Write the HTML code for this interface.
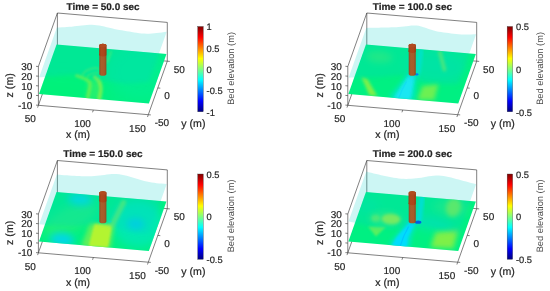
<!DOCTYPE html>
<html><head><meta charset="utf-8"><title>Bed elevation</title>
<style>html,body{margin:0;padding:0;background:#fff;}svg{display:block;}text{text-rendering:geometricPrecision;stroke:#262626;stroke-width:0.2px;font-family:"Liberation Sans",Arial,Helvetica,sans-serif;}</style></head><body>
<svg width="550" height="291" viewBox="0 0 550 291">
<defs>
<linearGradient id="jet" x1="0" y1="1" x2="0" y2="0"><stop offset="0" stop-color="#000080"/><stop offset="0.125" stop-color="#0000ff"/><stop offset="0.375" stop-color="#00ffff"/><stop offset="0.625" stop-color="#ffff00"/><stop offset="0.875" stop-color="#ff0000"/><stop offset="1" stop-color="#800000"/></linearGradient>
<filter id="bl1" x="-100%" y="-100%" width="300%" height="300%"><feGaussianBlur stdDeviation="0.50"/></filter>
<filter id="bl2" x="-100%" y="-100%" width="300%" height="300%"><feGaussianBlur stdDeviation="1.00"/></filter>
<filter id="bl3" x="-100%" y="-100%" width="300%" height="300%"><feGaussianBlur stdDeviation="1.50"/></filter>
<filter id="bl4" x="-100%" y="-100%" width="300%" height="300%"><feGaussianBlur stdDeviation="2.00"/></filter>
<filter id="bl5" x="-100%" y="-100%" width="300%" height="300%"><feGaussianBlur stdDeviation="2.50"/></filter>
<filter id="bl6" x="-100%" y="-100%" width="300%" height="300%"><feGaussianBlur stdDeviation="3.00"/></filter>
<filter id="bl7" x="-100%" y="-100%" width="300%" height="300%"><feGaussianBlur stdDeviation="3.50"/></filter>
<filter id="bl8" x="-100%" y="-100%" width="300%" height="300%"><feGaussianBlur stdDeviation="4.00"/></filter>
<filter id="bl9" x="-100%" y="-100%" width="300%" height="300%"><feGaussianBlur stdDeviation="4.50"/></filter>
<filter id="bl10" x="-100%" y="-100%" width="300%" height="300%"><feGaussianBlur stdDeviation="5.00"/></filter>
<filter id="bl11" x="-100%" y="-100%" width="300%" height="300%"><feGaussianBlur stdDeviation="5.50"/></filter>
<filter id="bl12" x="-100%" y="-100%" width="300%" height="300%"><feGaussianBlur stdDeviation="6.00"/></filter>
<filter id="bl13" x="-100%" y="-100%" width="300%" height="300%"><feGaussianBlur stdDeviation="6.50"/></filter>
<filter id="bl14" x="-100%" y="-100%" width="300%" height="300%"><feGaussianBlur stdDeviation="7.00"/></filter>
<filter id="bl15" x="-100%" y="-100%" width="300%" height="300%"><feGaussianBlur stdDeviation="7.50"/></filter>
<filter id="bl16" x="-100%" y="-100%" width="300%" height="300%"><feGaussianBlur stdDeviation="8.00"/></filter>
<filter id="bl17" x="-100%" y="-100%" width="300%" height="300%"><feGaussianBlur stdDeviation="8.50"/></filter>
<filter id="bl18" x="-100%" y="-100%" width="300%" height="300%"><feGaussianBlur stdDeviation="9.00"/></filter>
<filter id="bl19" x="-100%" y="-100%" width="300%" height="300%"><feGaussianBlur stdDeviation="9.50"/></filter>
<filter id="bl20" x="-100%" y="-100%" width="300%" height="300%"><feGaussianBlur stdDeviation="10.00"/></filter>
<linearGradient id="cylg" x1="0" y1="0" x2="1" y2="0"><stop offset="0" stop-color="#9a3c14"/><stop offset="0.3" stop-color="#ae481c"/><stop offset="0.7" stop-color="#ac461b"/><stop offset="1" stop-color="#963a12"/></linearGradient>
<linearGradient id="cylu" x1="0" y1="0" x2="1" y2="0"><stop offset="0" stop-color="#8e5024"/><stop offset="0.3" stop-color="#a85e2c"/><stop offset="0.7" stop-color="#a55c2a"/><stop offset="1" stop-color="#8a4e22"/></linearGradient>
</defs>
<rect width="550" height="291" fill="#fff"/>
<g transform="translate(0.00,0.00)">
<line x1="38.40" y1="105.30" x2="57.40" y2="51.80" stroke="#3c3c3c" stroke-width="0.65"/>
<line x1="57.40" y1="51.80" x2="167.30" y2="61.20" stroke="#3c3c3c" stroke-width="0.65"/>
<line x1="57.40" y1="51.80" x2="57.40" y2="13.00" stroke="#3c3c3c" stroke-width="0.65"/>
<line x1="38.40" y1="66.50" x2="57.40" y2="13.00" stroke="#3c3c3c" stroke-width="0.65"/>
<line x1="57.40" y1="13.00" x2="167.30" y2="22.40" stroke="#3c3c3c" stroke-width="0.65"/>
<line x1="167.30" y1="61.20" x2="167.30" y2="22.40" stroke="#3c3c3c" stroke-width="0.65"/>
<clipPath id="bc0"><polygon points="38.97,93.99 148.87,103.39 166.44,53.91 56.55,44.51"/></clipPath>
<clipPath id="nbc0"><path clip-rule="evenodd" d="M-60,-60 H320 V220 H-60 Z M38.97,93.99 L148.87,103.39 L166.44,53.91 L56.55,44.51 Z"/></clipPath>
<polygon points="38.97,93.99 148.87,103.39 166.44,53.91 56.55,44.51" fill="#00f082"/>
<g clip-path="url(#bc0)">
<ellipse cx="60.00" cy="92.00" rx="45.00" ry="18.00" transform="rotate(5.0 60.00 92.00)" fill="#00f550" fill-opacity="0.15" filter="url(#bl12)"/>
<ellipse cx="140.00" cy="72.00" rx="32.00" ry="28.00" transform="rotate(0.0 140.00 72.00)" fill="#00ebaa" fill-opacity="0.30" filter="url(#bl12)"/>
<path d="M88,80 L101,82 L100.5,100 L86,99 Z" fill="#46f064" fill-opacity="0.50" filter="url(#bl5)"/>
<path d="M76.8,75.7 Q84,77.5 89.8,82.2 Q90.2,88 89.1,90.9 L87.6,98" fill="none" stroke="#8cf046" stroke-width="3.40" stroke-opacity="0.60" stroke-linecap="round" stroke-linejoin="round" filter="url(#bl2)"/>
<path d="M94.9,77.2 Q99,80 99.9,83.6 Q101,88 100.6,90.9 L99.2,99" fill="none" stroke="#96f046" stroke-width="4.00" stroke-opacity="0.70" stroke-linecap="round" stroke-linejoin="round" filter="url(#bl2)"/>
<path d="M82.6,75 Q84,70 94.9,67.8 Q98,67.8 99.2,69.2" fill="none" stroke="#8cf046" stroke-width="1.80" stroke-opacity="0.45" stroke-linecap="round" stroke-linejoin="round" filter="url(#bl2)"/>
<path d="M87,77 Q90,72.5 98.5,72.8" fill="none" stroke="#8cf046" stroke-width="1.60" stroke-opacity="0.45" stroke-linecap="round" stroke-linejoin="round" filter="url(#bl2)"/>
<path d="M111,52 Q109.5,57 107,62" fill="none" stroke="#8cf046" stroke-width="2.20" stroke-opacity="0.45" stroke-linecap="round" stroke-linejoin="round" filter="url(#bl2)"/>
</g>
<g clip-path="url(#bc0)"><polygon points="56.83,27.51 59.33,27.40 61.83,27.29 64.32,27.17 66.82,27.02 69.32,26.84 71.82,26.63 74.31,26.36 76.81,26.06 79.31,25.73 81.81,25.41 84.30,25.13 86.80,24.92 89.30,24.80 91.80,24.81 94.30,24.96 96.79,25.24 99.29,25.62 101.79,26.09 104.29,26.62 106.78,27.20 109.28,27.79 111.78,28.37 114.28,28.94 116.78,29.46 119.27,29.93 121.77,30.36 124.27,30.77 126.77,31.17 129.26,31.57 131.76,31.98 134.26,32.40 136.76,32.80 139.25,33.16 141.75,33.44 144.25,33.62 146.75,33.69 149.25,33.66 151.74,33.54 154.24,33.34 156.74,33.09 159.24,32.79 161.73,32.45 164.23,32.09 166.73,31.72 149.06,81.47 146.56,81.85 144.06,82.21 141.57,82.54 139.07,82.84 136.57,83.10 134.07,83.29 131.58,83.42 129.08,83.45 126.58,83.38 124.08,83.19 121.58,82.91 119.09,82.55 116.59,82.15 114.09,81.73 111.59,81.32 109.10,80.92 106.60,80.53 104.10,80.12 101.60,79.68 99.11,79.21 96.61,78.69 94.11,78.13 91.61,77.54 89.11,76.95 86.62,76.38 84.12,75.85 81.62,75.38 79.12,74.99 76.63,74.72 74.13,74.56 71.63,74.55 69.13,74.67 66.63,74.88 64.14,75.16 61.64,75.48 59.14,75.81 56.64,76.12 54.15,76.38 51.65,76.60 49.15,76.78 46.65,76.92 44.16,77.05 41.66,77.16 39.16,77.26" fill="#00b4ff" fill-opacity="0.06" filter="url(#bl4)"/></g>
<g clip-path="url(#bc0)"><polygon points="56.83,27.51 59.33,27.40 61.83,27.29 64.32,27.17 66.82,27.02 69.32,26.84 71.82,26.63 74.31,26.36 76.81,26.06 79.31,25.73 81.81,25.41 84.30,25.13 86.80,24.92 89.30,24.80 91.80,24.81 94.30,24.96 96.79,25.24 99.29,25.62 101.79,26.09 104.29,26.62 106.78,27.20 109.28,27.79 111.78,28.37 114.28,28.94 116.78,29.46 119.27,29.93 121.77,30.36 124.27,30.77 126.77,31.17 129.26,31.57 131.76,31.98 134.26,32.40 136.76,32.80 139.25,33.16 141.75,33.44 144.25,33.62 146.75,33.69 149.25,33.66 151.74,33.54 154.24,33.34 156.74,33.09 159.24,32.79 161.73,32.45 164.23,32.09 166.73,31.72 149.06,81.47 146.56,81.85 144.06,82.21 141.57,82.54 139.07,82.84 136.57,83.10 134.07,83.29 131.58,83.42 129.08,83.45 126.58,83.38 124.08,83.19 121.58,82.91 119.09,82.55 116.59,82.15 114.09,81.73 111.59,81.32 109.10,80.92 106.60,80.53 104.10,80.12 101.60,79.68 99.11,79.21 96.61,78.69 94.11,78.13 91.61,77.54 89.11,76.95 86.62,76.38 84.12,75.85 81.62,75.38 79.12,74.99 76.63,74.72 74.13,74.56 71.63,74.55 69.13,74.67 66.63,74.88 64.14,75.16 61.64,75.48 59.14,75.81 56.64,76.12 54.15,76.38 51.65,76.60 49.15,76.78 46.65,76.92 44.16,77.05 41.66,77.16 39.16,77.26" fill="#00d2c8" fill-opacity="0.20" filter="url(#bl4)"/></g>
<polygon points="56.83,27.51 59.33,27.40 61.83,27.29 64.32,27.17 66.82,27.02 69.32,26.84 71.82,26.63 74.31,26.36 76.81,26.06 79.31,25.73 81.81,25.41 84.30,25.13 86.80,24.92 89.30,24.80 91.80,24.81 94.30,24.96 96.79,25.24 99.29,25.62 101.79,26.09 104.29,26.62 106.78,27.20 109.28,27.79 111.78,28.37 114.28,28.94 116.78,29.46 119.27,29.93 121.77,30.36 124.27,30.77 126.77,31.17 129.26,31.57 131.76,31.98 134.26,32.40 136.76,32.80 139.25,33.16 141.75,33.44 144.25,33.62 146.75,33.69 149.25,33.66 151.74,33.54 154.24,33.34 156.74,33.09 159.24,32.79 161.73,32.45 164.23,32.09 166.73,31.72 149.06,81.47 146.56,81.85 144.06,82.21 141.57,82.54 139.07,82.84 136.57,83.10 134.07,83.29 131.58,83.42 129.08,83.45 126.58,83.38 124.08,83.19 121.58,82.91 119.09,82.55 116.59,82.15 114.09,81.73 111.59,81.32 109.10,80.92 106.60,80.53 104.10,80.12 101.60,79.68 99.11,79.21 96.61,78.69 94.11,78.13 91.61,77.54 89.11,76.95 86.62,76.38 84.12,75.85 81.62,75.38 79.12,74.99 76.63,74.72 74.13,74.56 71.63,74.55 69.13,74.67 66.63,74.88 64.14,75.16 61.64,75.48 59.14,75.81 56.64,76.12 54.15,76.38 51.65,76.60 49.15,76.78 46.65,76.92 44.16,77.05 41.66,77.16 39.16,77.26" fill="#00d2c8" fill-opacity="0.20" clip-path="url(#nbc0)"/>
<path d="M99.30,45.61 L99.30,74.05 A3.55,1.75 0 0 0 106.40,74.05 L106.40,45.61 A3.55,1.75 0 0 0 99.30,45.61 Z" fill="url(#cylu)"/>
<path d="M99.30,45.61 L99.30,53.82 A3.55,1.75 0 0 0 106.40,55.22 L106.40,45.61 A3.55,1.75 0 0 0 99.30,45.61 Z" fill="url(#cylg)"/>
<ellipse cx="102.85" cy="45.61" rx="3.55" ry="1.75" fill="#b24a1e"/>
<line x1="38.40" y1="105.30" x2="38.40" y2="66.50" stroke="#3c3c3c" stroke-width="0.65"/>
<line x1="38.40" y1="105.30" x2="148.30" y2="114.70" stroke="#3c3c3c" stroke-width="0.65"/>
<line x1="148.30" y1="114.70" x2="167.30" y2="61.20" stroke="#3c3c3c" stroke-width="0.65"/>
<line x1="38.40" y1="105.30" x2="36.00" y2="105.10" stroke="#3c3c3c" stroke-width="0.65"/>
<line x1="38.40" y1="95.60" x2="36.00" y2="95.40" stroke="#3c3c3c" stroke-width="0.65"/>
<line x1="38.40" y1="85.90" x2="36.00" y2="85.70" stroke="#3c3c3c" stroke-width="0.65"/>
<line x1="38.40" y1="76.20" x2="36.00" y2="76.00" stroke="#3c3c3c" stroke-width="0.65"/>
<line x1="38.40" y1="66.50" x2="36.00" y2="66.30" stroke="#3c3c3c" stroke-width="0.65"/>
<line x1="38.40" y1="105.30" x2="37.60" y2="107.60" stroke="#3c3c3c" stroke-width="0.65"/>
<line x1="93.35" y1="110.00" x2="92.55" y2="112.30" stroke="#3c3c3c" stroke-width="0.65"/>
<line x1="148.30" y1="114.70" x2="147.50" y2="117.00" stroke="#3c3c3c" stroke-width="0.65"/>
<line x1="148.30" y1="114.70" x2="150.80" y2="114.90" stroke="#3c3c3c" stroke-width="0.65"/>
<line x1="157.80" y1="87.95" x2="160.30" y2="88.15" stroke="#3c3c3c" stroke-width="0.65"/>
<line x1="167.30" y1="61.20" x2="169.80" y2="61.40" stroke="#3c3c3c" stroke-width="0.65"/>
<text x="32.40" y="108.90" text-anchor="end" font-size="10.00" font-weight="normal" fill="#262626">-10</text>
<text x="32.40" y="99.20" text-anchor="end" font-size="10.00" font-weight="normal" fill="#262626">0</text>
<text x="32.40" y="89.50" text-anchor="end" font-size="10.00" font-weight="normal" fill="#262626">10</text>
<text x="32.40" y="79.80" text-anchor="end" font-size="10.00" font-weight="normal" fill="#262626">20</text>
<text x="32.40" y="70.10" text-anchor="end" font-size="10.00" font-weight="normal" fill="#262626">30</text>
<text x="35.90" y="122.20" text-anchor="end" font-size="10.00" font-weight="normal" fill="#262626">50</text>
<text x="90.85" y="126.90" text-anchor="end" font-size="10.00" font-weight="normal" fill="#262626">100</text>
<text x="145.80" y="131.60" text-anchor="end" font-size="10.00" font-weight="normal" fill="#262626">150</text>
<text x="154.70" y="126.00" text-anchor="start" font-size="10.00" font-weight="normal" fill="#262626">-50</text>
<text x="164.20" y="99.25" text-anchor="start" font-size="10.00" font-weight="normal" fill="#262626">0</text>
<text x="173.70" y="72.50" text-anchor="start" font-size="10.00" font-weight="normal" fill="#262626">50</text>
<text x="78.00" y="138.20" text-anchor="middle" font-size="10.60" font-weight="normal" fill="#262626">x (m)</text>
<text x="193.40" y="127.40" text-anchor="middle" font-size="10.60" font-weight="normal" fill="#262626">y (m)</text>
<text x="13.20" y="85.30" text-anchor="middle" font-size="10.60" font-weight="normal" fill="#262626" transform="rotate(-90 13.20 85.30)">z (m)</text>
<g transform="translate(0 9.7) scale(1 1.0) translate(0 -9.7)">
<text x="103.00" y="9.70" text-anchor="middle" font-size="9.80" font-weight="bold" fill="#262626" textLength="73.0" lengthAdjust="spacingAndGlyphs">Time = 50.0 sec</text>
</g>
<rect x="197.75" y="26.50" width="5.50" height="85.30" fill="url(#jet)" stroke="#3c3c3c" stroke-width="0.35"/>
<text x="206.60" y="30.30" text-anchor="start" font-size="9.30" font-weight="normal" fill="#262626">1</text>
<text x="206.60" y="51.62" text-anchor="start" font-size="9.30" font-weight="normal" fill="#262626">0.5</text>
<text x="206.60" y="72.95" text-anchor="start" font-size="9.30" font-weight="normal" fill="#262626">0</text>
<text x="206.60" y="94.27" text-anchor="start" font-size="9.30" font-weight="normal" fill="#262626">-0.5</text>
<text x="206.60" y="115.60" text-anchor="start" font-size="9.30" font-weight="normal" fill="#262626">-1</text>
<text x="233.80" y="68.40" text-anchor="middle" font-size="9.30" font-weight="normal" fill="#4a4a4a" style="stroke:none" transform="rotate(-90 233.80 68.40)">Bed elevation (m)</text>
</g>
<g transform="translate(309.40,0.00)">
<line x1="38.40" y1="105.30" x2="57.40" y2="51.80" stroke="#3c3c3c" stroke-width="0.65"/>
<line x1="57.40" y1="51.80" x2="167.30" y2="61.20" stroke="#3c3c3c" stroke-width="0.65"/>
<line x1="57.40" y1="51.80" x2="57.40" y2="13.00" stroke="#3c3c3c" stroke-width="0.65"/>
<line x1="38.40" y1="66.50" x2="57.40" y2="13.00" stroke="#3c3c3c" stroke-width="0.65"/>
<line x1="57.40" y1="13.00" x2="167.30" y2="22.40" stroke="#3c3c3c" stroke-width="0.65"/>
<line x1="167.30" y1="61.20" x2="167.30" y2="22.40" stroke="#3c3c3c" stroke-width="0.65"/>
<clipPath id="bc1"><polygon points="38.97,93.99 148.87,103.39 166.44,53.91 56.55,44.51"/></clipPath>
<clipPath id="nbc1"><path clip-rule="evenodd" d="M-60,-60 H320 V220 H-60 Z M38.97,93.99 L148.87,103.39 L166.44,53.91 L56.55,44.51 Z"/></clipPath>
<polygon points="38.97,93.99 148.87,103.39 166.44,53.91 56.55,44.51" fill="#00f082"/>
<g clip-path="url(#bc1)">
<ellipse cx="125.00" cy="65.00" rx="30.00" ry="14.00" transform="rotate(5.0 125.00 65.00)" fill="#00e6aa" fill-opacity="0.45" filter="url(#bl10)"/>
<ellipse cx="70.00" cy="57.00" rx="13.00" ry="6.00" transform="rotate(5.0 70.00 57.00)" fill="#5af05a" fill-opacity="0.45" filter="url(#bl6)"/>
<path d="M99,73 L107,74.5 L106,100 L79,98 Z" fill="#00e6dc" fill-opacity="0.65" filter="url(#bl4)"/>
<path d="M99.5,75 L105.5,76 L101,100 L84,98.5 Z" fill="#1ee6ff" fill-opacity="0.80" filter="url(#bl3)"/>
<path d="M97,82 Q92,90 89.5,98" fill="none" stroke="#00c8ff" stroke-width="1.30" stroke-opacity="0.30" stroke-linecap="round" stroke-linejoin="round" filter="url(#bl1)"/>
<path d="M108.5,73 L111.5,51" fill="none" stroke="#00e6e6" stroke-width="5.00" stroke-opacity="0.60" stroke-linecap="round" stroke-linejoin="round" filter="url(#bl3)"/>
<path d="M52,77 L58,79 L68,96 L60,95.5 Z" fill="#b4f030" fill-opacity="0.70" filter="url(#bl3)"/>
<path d="M113,86 L129,84 L125,100 L108,100 Z" fill="#b4f030" fill-opacity="0.60" filter="url(#bl4)"/>
<path d="M130.5,52.5 L135,69.5" fill="none" stroke="#82f050" stroke-width="4.00" stroke-opacity="0.70" stroke-linecap="round" stroke-linejoin="round" filter="url(#bl3)"/>
<ellipse cx="107.00" cy="74.40" rx="2.20" ry="1.10" transform="rotate(0.0 107.00 74.40)" fill="#0064ff" fill-opacity="1.00" filter="url(#bl1)"/>
</g>
<g clip-path="url(#bc1)"><polygon points="56.83,27.90 59.33,27.86 61.83,27.82 64.32,27.77 66.82,27.73 69.32,27.68 71.82,27.62 74.31,27.56 76.81,27.50 79.31,27.42 81.81,27.34 84.30,27.26 86.80,27.15 89.30,27.02 91.80,26.84 94.30,26.60 96.79,26.29 99.29,25.94 101.79,25.62 104.29,25.44 106.78,25.47 109.28,25.81 111.78,26.40 114.28,27.17 116.78,28.04 119.27,28.95 121.77,29.80 124.27,30.54 126.77,31.14 129.26,31.65 131.76,32.07 134.26,32.44 136.76,32.78 139.25,33.11 141.75,33.45 144.25,33.78 146.75,34.08 149.25,34.34 151.74,34.51 154.24,34.60 156.74,34.61 159.24,34.55 161.73,34.45 164.23,34.31 166.73,34.15 149.06,83.91 146.56,84.06 144.06,84.20 141.57,84.31 139.07,84.36 136.57,84.36 134.07,84.27 131.58,84.09 129.08,83.84 126.58,83.54 124.08,83.20 121.58,82.86 119.09,82.53 116.59,82.19 114.09,81.83 111.59,81.40 109.10,80.90 106.60,80.29 104.10,79.56 101.60,78.70 99.11,77.80 96.61,76.92 94.11,76.15 91.61,75.56 89.11,75.23 86.62,75.19 84.12,75.38 81.62,75.69 79.12,76.05 76.63,76.36 74.13,76.59 71.63,76.77 69.13,76.91 66.63,77.01 64.14,77.10 61.64,77.18 59.14,77.25 56.64,77.32 54.15,77.38 51.65,77.43 49.15,77.48 46.65,77.53 44.16,77.57 41.66,77.62 39.16,77.66" fill="#00b4ff" fill-opacity="0.06" filter="url(#bl4)"/></g>
<g clip-path="url(#bc1)"><polygon points="56.83,27.90 59.33,27.86 61.83,27.82 64.32,27.77 66.82,27.73 69.32,27.68 71.82,27.62 74.31,27.56 76.81,27.50 79.31,27.42 81.81,27.34 84.30,27.26 86.80,27.15 89.30,27.02 91.80,26.84 94.30,26.60 96.79,26.29 99.29,25.94 101.79,25.62 104.29,25.44 106.78,25.47 109.28,25.81 111.78,26.40 114.28,27.17 116.78,28.04 119.27,28.95 121.77,29.80 124.27,30.54 126.77,31.14 129.26,31.65 131.76,32.07 134.26,32.44 136.76,32.78 139.25,33.11 141.75,33.45 144.25,33.78 146.75,34.08 149.25,34.34 151.74,34.51 154.24,34.60 156.74,34.61 159.24,34.55 161.73,34.45 164.23,34.31 166.73,34.15 149.06,83.91 146.56,84.06 144.06,84.20 141.57,84.31 139.07,84.36 136.57,84.36 134.07,84.27 131.58,84.09 129.08,83.84 126.58,83.54 124.08,83.20 121.58,82.86 119.09,82.53 116.59,82.19 114.09,81.83 111.59,81.40 109.10,80.90 106.60,80.29 104.10,79.56 101.60,78.70 99.11,77.80 96.61,76.92 94.11,76.15 91.61,75.56 89.11,75.23 86.62,75.19 84.12,75.38 81.62,75.69 79.12,76.05 76.63,76.36 74.13,76.59 71.63,76.77 69.13,76.91 66.63,77.01 64.14,77.10 61.64,77.18 59.14,77.25 56.64,77.32 54.15,77.38 51.65,77.43 49.15,77.48 46.65,77.53 44.16,77.57 41.66,77.62 39.16,77.66" fill="#00d2c8" fill-opacity="0.20" filter="url(#bl4)"/></g>
<polygon points="56.83,27.90 59.33,27.86 61.83,27.82 64.32,27.77 66.82,27.73 69.32,27.68 71.82,27.62 74.31,27.56 76.81,27.50 79.31,27.42 81.81,27.34 84.30,27.26 86.80,27.15 89.30,27.02 91.80,26.84 94.30,26.60 96.79,26.29 99.29,25.94 101.79,25.62 104.29,25.44 106.78,25.47 109.28,25.81 111.78,26.40 114.28,27.17 116.78,28.04 119.27,28.95 121.77,29.80 124.27,30.54 126.77,31.14 129.26,31.65 131.76,32.07 134.26,32.44 136.76,32.78 139.25,33.11 141.75,33.45 144.25,33.78 146.75,34.08 149.25,34.34 151.74,34.51 154.24,34.60 156.74,34.61 159.24,34.55 161.73,34.45 164.23,34.31 166.73,34.15 149.06,83.91 146.56,84.06 144.06,84.20 141.57,84.31 139.07,84.36 136.57,84.36 134.07,84.27 131.58,84.09 129.08,83.84 126.58,83.54 124.08,83.20 121.58,82.86 119.09,82.53 116.59,82.19 114.09,81.83 111.59,81.40 109.10,80.90 106.60,80.29 104.10,79.56 101.60,78.70 99.11,77.80 96.61,76.92 94.11,76.15 91.61,75.56 89.11,75.23 86.62,75.19 84.12,75.38 81.62,75.69 79.12,76.05 76.63,76.36 74.13,76.59 71.63,76.77 69.13,76.91 66.63,77.01 64.14,77.10 61.64,77.18 59.14,77.25 56.64,77.32 54.15,77.38 51.65,77.43 49.15,77.48 46.65,77.53 44.16,77.57 41.66,77.62 39.16,77.66" fill="#00d2c8" fill-opacity="0.20" clip-path="url(#nbc1)"/>
<path d="M99.30,45.61 L99.30,74.05 A3.55,1.75 0 0 0 106.40,74.05 L106.40,45.61 A3.55,1.75 0 0 0 99.30,45.61 Z" fill="url(#cylu)"/>
<path d="M99.30,45.61 L99.30,50.24 A3.55,1.75 0 0 0 106.40,51.64 L106.40,45.61 A3.55,1.75 0 0 0 99.30,45.61 Z" fill="url(#cylg)"/>
<ellipse cx="102.85" cy="45.61" rx="3.55" ry="1.75" fill="#b24a1e"/>
<line x1="38.40" y1="105.30" x2="38.40" y2="66.50" stroke="#3c3c3c" stroke-width="0.65"/>
<line x1="38.40" y1="105.30" x2="148.30" y2="114.70" stroke="#3c3c3c" stroke-width="0.65"/>
<line x1="148.30" y1="114.70" x2="167.30" y2="61.20" stroke="#3c3c3c" stroke-width="0.65"/>
<line x1="38.40" y1="105.30" x2="36.00" y2="105.10" stroke="#3c3c3c" stroke-width="0.65"/>
<line x1="38.40" y1="95.60" x2="36.00" y2="95.40" stroke="#3c3c3c" stroke-width="0.65"/>
<line x1="38.40" y1="85.90" x2="36.00" y2="85.70" stroke="#3c3c3c" stroke-width="0.65"/>
<line x1="38.40" y1="76.20" x2="36.00" y2="76.00" stroke="#3c3c3c" stroke-width="0.65"/>
<line x1="38.40" y1="66.50" x2="36.00" y2="66.30" stroke="#3c3c3c" stroke-width="0.65"/>
<line x1="38.40" y1="105.30" x2="37.60" y2="107.60" stroke="#3c3c3c" stroke-width="0.65"/>
<line x1="93.35" y1="110.00" x2="92.55" y2="112.30" stroke="#3c3c3c" stroke-width="0.65"/>
<line x1="148.30" y1="114.70" x2="147.50" y2="117.00" stroke="#3c3c3c" stroke-width="0.65"/>
<line x1="148.30" y1="114.70" x2="150.80" y2="114.90" stroke="#3c3c3c" stroke-width="0.65"/>
<line x1="157.80" y1="87.95" x2="160.30" y2="88.15" stroke="#3c3c3c" stroke-width="0.65"/>
<line x1="167.30" y1="61.20" x2="169.80" y2="61.40" stroke="#3c3c3c" stroke-width="0.65"/>
<text x="32.40" y="108.90" text-anchor="end" font-size="10.00" font-weight="normal" fill="#262626">-10</text>
<text x="32.40" y="99.20" text-anchor="end" font-size="10.00" font-weight="normal" fill="#262626">0</text>
<text x="32.40" y="89.50" text-anchor="end" font-size="10.00" font-weight="normal" fill="#262626">10</text>
<text x="32.40" y="79.80" text-anchor="end" font-size="10.00" font-weight="normal" fill="#262626">20</text>
<text x="32.40" y="70.10" text-anchor="end" font-size="10.00" font-weight="normal" fill="#262626">30</text>
<text x="35.90" y="122.20" text-anchor="end" font-size="10.00" font-weight="normal" fill="#262626">50</text>
<text x="90.85" y="126.90" text-anchor="end" font-size="10.00" font-weight="normal" fill="#262626">100</text>
<text x="145.80" y="131.60" text-anchor="end" font-size="10.00" font-weight="normal" fill="#262626">150</text>
<text x="154.70" y="126.00" text-anchor="start" font-size="10.00" font-weight="normal" fill="#262626">-50</text>
<text x="164.20" y="99.25" text-anchor="start" font-size="10.00" font-weight="normal" fill="#262626">0</text>
<text x="173.70" y="72.50" text-anchor="start" font-size="10.00" font-weight="normal" fill="#262626">50</text>
<text x="78.00" y="138.20" text-anchor="middle" font-size="10.60" font-weight="normal" fill="#262626">x (m)</text>
<text x="193.40" y="127.40" text-anchor="middle" font-size="10.60" font-weight="normal" fill="#262626">y (m)</text>
<text x="13.20" y="85.30" text-anchor="middle" font-size="10.60" font-weight="normal" fill="#262626" transform="rotate(-90 13.20 85.30)">z (m)</text>
<g transform="translate(0 9.7) scale(1 1.0) translate(0 -9.7)">
<text x="103.00" y="9.70" text-anchor="middle" font-size="9.80" font-weight="bold" fill="#262626" textLength="79.4" lengthAdjust="spacingAndGlyphs">Time = 100.0 sec</text>
</g>
<rect x="197.75" y="26.50" width="5.50" height="85.30" fill="url(#jet)" stroke="#3c3c3c" stroke-width="0.35"/>
<text x="206.60" y="30.30" text-anchor="start" font-size="9.30" font-weight="normal" fill="#262626">0.5</text>
<text x="206.60" y="72.95" text-anchor="start" font-size="9.30" font-weight="normal" fill="#262626">0</text>
<text x="206.60" y="115.60" text-anchor="start" font-size="9.30" font-weight="normal" fill="#262626">-0.5</text>
<text x="233.80" y="68.40" text-anchor="middle" font-size="9.30" font-weight="normal" fill="#4a4a4a" style="stroke:none" transform="rotate(-90 233.80 68.40)">Bed elevation (m)</text>
</g>
<g transform="translate(0.00,147.50)">
<line x1="38.40" y1="105.30" x2="57.40" y2="51.80" stroke="#3c3c3c" stroke-width="0.65"/>
<line x1="57.40" y1="51.80" x2="167.30" y2="61.20" stroke="#3c3c3c" stroke-width="0.65"/>
<line x1="57.40" y1="51.80" x2="57.40" y2="13.00" stroke="#3c3c3c" stroke-width="0.65"/>
<line x1="38.40" y1="66.50" x2="57.40" y2="13.00" stroke="#3c3c3c" stroke-width="0.65"/>
<line x1="57.40" y1="13.00" x2="167.30" y2="22.40" stroke="#3c3c3c" stroke-width="0.65"/>
<line x1="167.30" y1="61.20" x2="167.30" y2="22.40" stroke="#3c3c3c" stroke-width="0.65"/>
<clipPath id="bc2"><polygon points="38.97,93.99 148.87,103.39 166.44,53.91 56.55,44.51"/></clipPath>
<clipPath id="nbc2"><path clip-rule="evenodd" d="M-60,-60 H320 V220 H-60 Z M38.97,93.99 L148.87,103.39 L166.44,53.91 L56.55,44.51 Z"/></clipPath>
<polygon points="38.97,93.99 148.87,103.39 166.44,53.91 56.55,44.51" fill="#00f082"/>
<g clip-path="url(#bc2)">
<ellipse cx="138.00" cy="76.00" rx="26.00" ry="24.00" transform="rotate(10.0 138.00 76.00)" fill="#00e6c8" fill-opacity="0.65" filter="url(#bl10)"/>
<ellipse cx="70.00" cy="72.00" rx="12.00" ry="30.00" transform="rotate(62.0 70.00 72.00)" fill="#3cf06e" fill-opacity="0.45" filter="url(#bl8)"/>
<ellipse cx="80.00" cy="52.00" rx="12.00" ry="6.00" transform="rotate(5.0 80.00 52.00)" fill="#00d7f5" fill-opacity="0.80" filter="url(#bl7)"/>
<ellipse cx="62.00" cy="92.00" rx="12.00" ry="6.50" transform="rotate(5.0 62.00 92.00)" fill="#00d2fa" fill-opacity="0.85" filter="url(#bl7)"/>
<ellipse cx="135.70" cy="76.60" rx="9.00" ry="6.00" transform="rotate(5.0 135.70 76.60)" fill="#00c8f0" fill-opacity="0.75" filter="url(#bl6)"/>
<path d="M90,75.5 L114.5,77.5 L110.5,101 L81,99 Z" fill="#78f050" fill-opacity="0.80" filter="url(#bl4)"/>
<path d="M94.5,76 L112,77.5 L108,100 L88.5,99 Z" fill="#c8f528" fill-opacity="0.80" filter="url(#bl2)"/>
<path d="M112.5,77 L123.5,55" fill="none" stroke="#78f05a" stroke-width="5.50" stroke-opacity="0.70" stroke-linecap="round" stroke-linejoin="round" filter="url(#bl3)"/>
<ellipse cx="110.00" cy="74.00" rx="1.80" ry="1.00" transform="rotate(0.0 110.00 74.00)" fill="#00dcf0" fill-opacity="0.40" filter="url(#bl1)"/>
</g>
<g clip-path="url(#bc2)"><polygon points="56.83,26.98 59.33,27.21 61.83,27.42 64.32,27.63 66.82,27.84 69.32,28.03 71.82,28.20 74.31,28.36 76.81,28.49 79.31,28.60 81.81,28.68 84.30,28.73 86.80,28.74 89.30,28.71 91.80,28.64 94.30,28.52 96.79,28.34 99.29,28.10 101.79,27.80 104.29,27.46 106.78,27.12 109.28,26.81 111.78,26.59 114.28,26.49 116.78,26.55 119.27,26.78 121.77,27.16 124.27,27.66 126.77,28.27 129.26,28.96 131.76,29.70 134.26,30.48 136.76,31.28 139.25,32.06 141.75,32.80 144.25,33.47 146.75,34.07 149.25,34.57 151.74,35.00 154.24,35.36 156.74,35.66 159.24,35.91 161.73,36.11 164.23,36.29 166.73,36.45 149.06,86.21 146.56,86.05 144.06,85.87 141.57,85.66 139.07,85.42 136.57,85.12 134.07,84.76 131.58,84.33 129.08,83.82 126.58,83.23 124.08,82.55 121.58,81.81 119.09,81.03 116.59,80.24 114.09,79.46 111.59,78.71 109.10,78.03 106.60,77.42 104.10,76.92 101.60,76.54 99.11,76.31 96.61,76.25 94.11,76.35 91.61,76.57 89.11,76.87 86.62,77.21 84.12,77.56 81.62,77.86 79.12,78.10 76.63,78.27 74.13,78.40 71.63,78.47 69.13,78.50 66.63,78.48 64.14,78.43 61.64,78.35 59.14,78.24 56.64,78.11 54.15,77.96 51.65,77.78 49.15,77.59 46.65,77.39 44.16,77.18 41.66,76.96 39.16,76.74" fill="#00b4ff" fill-opacity="0.06" filter="url(#bl4)"/></g>
<g clip-path="url(#bc2)"><polygon points="56.83,26.98 59.33,27.21 61.83,27.42 64.32,27.63 66.82,27.84 69.32,28.03 71.82,28.20 74.31,28.36 76.81,28.49 79.31,28.60 81.81,28.68 84.30,28.73 86.80,28.74 89.30,28.71 91.80,28.64 94.30,28.52 96.79,28.34 99.29,28.10 101.79,27.80 104.29,27.46 106.78,27.12 109.28,26.81 111.78,26.59 114.28,26.49 116.78,26.55 119.27,26.78 121.77,27.16 124.27,27.66 126.77,28.27 129.26,28.96 131.76,29.70 134.26,30.48 136.76,31.28 139.25,32.06 141.75,32.80 144.25,33.47 146.75,34.07 149.25,34.57 151.74,35.00 154.24,35.36 156.74,35.66 159.24,35.91 161.73,36.11 164.23,36.29 166.73,36.45 149.06,86.21 146.56,86.05 144.06,85.87 141.57,85.66 139.07,85.42 136.57,85.12 134.07,84.76 131.58,84.33 129.08,83.82 126.58,83.23 124.08,82.55 121.58,81.81 119.09,81.03 116.59,80.24 114.09,79.46 111.59,78.71 109.10,78.03 106.60,77.42 104.10,76.92 101.60,76.54 99.11,76.31 96.61,76.25 94.11,76.35 91.61,76.57 89.11,76.87 86.62,77.21 84.12,77.56 81.62,77.86 79.12,78.10 76.63,78.27 74.13,78.40 71.63,78.47 69.13,78.50 66.63,78.48 64.14,78.43 61.64,78.35 59.14,78.24 56.64,78.11 54.15,77.96 51.65,77.78 49.15,77.59 46.65,77.39 44.16,77.18 41.66,76.96 39.16,76.74" fill="#00d2c8" fill-opacity="0.20" filter="url(#bl4)"/></g>
<polygon points="56.83,26.98 59.33,27.21 61.83,27.42 64.32,27.63 66.82,27.84 69.32,28.03 71.82,28.20 74.31,28.36 76.81,28.49 79.31,28.60 81.81,28.68 84.30,28.73 86.80,28.74 89.30,28.71 91.80,28.64 94.30,28.52 96.79,28.34 99.29,28.10 101.79,27.80 104.29,27.46 106.78,27.12 109.28,26.81 111.78,26.59 114.28,26.49 116.78,26.55 119.27,26.78 121.77,27.16 124.27,27.66 126.77,28.27 129.26,28.96 131.76,29.70 134.26,30.48 136.76,31.28 139.25,32.06 141.75,32.80 144.25,33.47 146.75,34.07 149.25,34.57 151.74,35.00 154.24,35.36 156.74,35.66 159.24,35.91 161.73,36.11 164.23,36.29 166.73,36.45 149.06,86.21 146.56,86.05 144.06,85.87 141.57,85.66 139.07,85.42 136.57,85.12 134.07,84.76 131.58,84.33 129.08,83.82 126.58,83.23 124.08,82.55 121.58,81.81 119.09,81.03 116.59,80.24 114.09,79.46 111.59,78.71 109.10,78.03 106.60,77.42 104.10,76.92 101.60,76.54 99.11,76.31 96.61,76.25 94.11,76.35 91.61,76.57 89.11,76.87 86.62,77.21 84.12,77.56 81.62,77.86 79.12,78.10 76.63,78.27 74.13,78.40 71.63,78.47 69.13,78.50 66.63,78.48 64.14,78.43 61.64,78.35 59.14,78.24 56.64,78.11 54.15,77.96 51.65,77.78 49.15,77.59 46.65,77.39 44.16,77.18 41.66,76.96 39.16,76.74" fill="#00d2c8" fill-opacity="0.20" clip-path="url(#nbc2)"/>
<path d="M99.30,45.61 L99.30,74.05 A3.55,1.75 0 0 0 106.40,74.05 L106.40,45.61 A3.55,1.75 0 0 0 99.30,45.61 Z" fill="url(#cylu)"/>
<path d="M99.30,45.61 L99.30,52.34 A3.55,1.75 0 0 0 106.40,53.74 L106.40,45.61 A3.55,1.75 0 0 0 99.30,45.61 Z" fill="url(#cylg)"/>
<ellipse cx="102.85" cy="45.61" rx="3.55" ry="1.75" fill="#b24a1e"/>
<line x1="38.40" y1="105.30" x2="38.40" y2="66.50" stroke="#3c3c3c" stroke-width="0.65"/>
<line x1="38.40" y1="105.30" x2="148.30" y2="114.70" stroke="#3c3c3c" stroke-width="0.65"/>
<line x1="148.30" y1="114.70" x2="167.30" y2="61.20" stroke="#3c3c3c" stroke-width="0.65"/>
<line x1="38.40" y1="105.30" x2="36.00" y2="105.10" stroke="#3c3c3c" stroke-width="0.65"/>
<line x1="38.40" y1="95.60" x2="36.00" y2="95.40" stroke="#3c3c3c" stroke-width="0.65"/>
<line x1="38.40" y1="85.90" x2="36.00" y2="85.70" stroke="#3c3c3c" stroke-width="0.65"/>
<line x1="38.40" y1="76.20" x2="36.00" y2="76.00" stroke="#3c3c3c" stroke-width="0.65"/>
<line x1="38.40" y1="66.50" x2="36.00" y2="66.30" stroke="#3c3c3c" stroke-width="0.65"/>
<line x1="38.40" y1="105.30" x2="37.60" y2="107.60" stroke="#3c3c3c" stroke-width="0.65"/>
<line x1="93.35" y1="110.00" x2="92.55" y2="112.30" stroke="#3c3c3c" stroke-width="0.65"/>
<line x1="148.30" y1="114.70" x2="147.50" y2="117.00" stroke="#3c3c3c" stroke-width="0.65"/>
<line x1="148.30" y1="114.70" x2="150.80" y2="114.90" stroke="#3c3c3c" stroke-width="0.65"/>
<line x1="157.80" y1="87.95" x2="160.30" y2="88.15" stroke="#3c3c3c" stroke-width="0.65"/>
<line x1="167.30" y1="61.20" x2="169.80" y2="61.40" stroke="#3c3c3c" stroke-width="0.65"/>
<text x="32.40" y="108.90" text-anchor="end" font-size="10.00" font-weight="normal" fill="#262626">-10</text>
<text x="32.40" y="99.20" text-anchor="end" font-size="10.00" font-weight="normal" fill="#262626">0</text>
<text x="32.40" y="89.50" text-anchor="end" font-size="10.00" font-weight="normal" fill="#262626">10</text>
<text x="32.40" y="79.80" text-anchor="end" font-size="10.00" font-weight="normal" fill="#262626">20</text>
<text x="32.40" y="70.10" text-anchor="end" font-size="10.00" font-weight="normal" fill="#262626">30</text>
<text x="35.90" y="122.20" text-anchor="end" font-size="10.00" font-weight="normal" fill="#262626">50</text>
<text x="90.85" y="126.90" text-anchor="end" font-size="10.00" font-weight="normal" fill="#262626">100</text>
<text x="145.80" y="131.60" text-anchor="end" font-size="10.00" font-weight="normal" fill="#262626">150</text>
<text x="154.70" y="126.00" text-anchor="start" font-size="10.00" font-weight="normal" fill="#262626">-50</text>
<text x="164.20" y="99.25" text-anchor="start" font-size="10.00" font-weight="normal" fill="#262626">0</text>
<text x="173.70" y="72.50" text-anchor="start" font-size="10.00" font-weight="normal" fill="#262626">50</text>
<text x="78.00" y="138.20" text-anchor="middle" font-size="10.60" font-weight="normal" fill="#262626">x (m)</text>
<text x="193.40" y="127.40" text-anchor="middle" font-size="10.60" font-weight="normal" fill="#262626">y (m)</text>
<text x="13.20" y="85.30" text-anchor="middle" font-size="10.60" font-weight="normal" fill="#262626" transform="rotate(-90 13.20 85.30)">z (m)</text>
<g transform="translate(0 9.7) scale(1 1.0) translate(0 -9.7)">
<text x="103.00" y="9.70" text-anchor="middle" font-size="9.80" font-weight="bold" fill="#262626" textLength="79.4" lengthAdjust="spacingAndGlyphs">Time = 150.0 sec</text>
</g>
<rect x="197.75" y="26.50" width="5.50" height="85.30" fill="url(#jet)" stroke="#3c3c3c" stroke-width="0.35"/>
<text x="206.60" y="30.30" text-anchor="start" font-size="9.30" font-weight="normal" fill="#262626">0.5</text>
<text x="206.60" y="72.95" text-anchor="start" font-size="9.30" font-weight="normal" fill="#262626">0</text>
<text x="206.60" y="115.60" text-anchor="start" font-size="9.30" font-weight="normal" fill="#262626">-0.5</text>
<text x="233.80" y="68.40" text-anchor="middle" font-size="9.30" font-weight="normal" fill="#4a4a4a" style="stroke:none" transform="rotate(-90 233.80 68.40)">Bed elevation (m)</text>
</g>
<g transform="translate(309.40,147.50)">
<line x1="38.40" y1="105.30" x2="57.40" y2="51.80" stroke="#3c3c3c" stroke-width="0.65"/>
<line x1="57.40" y1="51.80" x2="167.30" y2="61.20" stroke="#3c3c3c" stroke-width="0.65"/>
<line x1="57.40" y1="51.80" x2="57.40" y2="13.00" stroke="#3c3c3c" stroke-width="0.65"/>
<line x1="38.40" y1="66.50" x2="57.40" y2="13.00" stroke="#3c3c3c" stroke-width="0.65"/>
<line x1="57.40" y1="13.00" x2="167.30" y2="22.40" stroke="#3c3c3c" stroke-width="0.65"/>
<line x1="167.30" y1="61.20" x2="167.30" y2="22.40" stroke="#3c3c3c" stroke-width="0.65"/>
<clipPath id="bc3"><polygon points="38.97,93.99 148.87,103.39 166.44,53.91 56.55,44.51"/></clipPath>
<clipPath id="nbc3"><path clip-rule="evenodd" d="M-60,-60 H320 V220 H-60 Z M38.97,93.99 L148.87,103.39 L166.44,53.91 L56.55,44.51 Z"/></clipPath>
<polygon points="38.97,93.99 148.87,103.39 166.44,53.91 56.55,44.51" fill="#00f082"/>
<g clip-path="url(#bc3)">
<ellipse cx="120.00" cy="76.00" rx="24.00" ry="7.00" transform="rotate(8.0 120.00 76.00)" fill="#00e6be" fill-opacity="0.50" filter="url(#bl8)"/>
<ellipse cx="58.00" cy="58.00" rx="12.00" ry="8.00" transform="rotate(5.0 58.00 58.00)" fill="#00e6b4" fill-opacity="0.25" filter="url(#bl8)"/>
<ellipse cx="142.00" cy="60.00" rx="18.00" ry="9.00" transform="rotate(5.0 142.00 60.00)" fill="#32f06e" fill-opacity="0.45" filter="url(#bl6)"/>
<ellipse cx="76.00" cy="71.00" rx="17.00" ry="8.00" transform="rotate(3.0 76.00 71.00)" fill="#3cf06e" fill-opacity="0.50" filter="url(#bl5)"/>
<ellipse cx="81.50" cy="71.50" rx="9.50" ry="5.20" transform="rotate(3.0 81.50 71.50)" fill="#b4f532" fill-opacity="0.85" filter="url(#bl3)"/>
<ellipse cx="66.40" cy="70.70" rx="4.50" ry="3.50" transform="rotate(0.0 66.40 70.70)" fill="#82f050" fill-opacity="0.70" filter="url(#bl3)"/>
<path d="M58.7,79 L76.5,79.5 L66.5,89 Z" fill="#6ef055" fill-opacity="0.80" filter="url(#bl2)"/>
<path d="M99,73 L107,75 L102,90 L101,100 L79,98 L85,90 Z" fill="#00e1e6" fill-opacity="0.65" filter="url(#bl4)"/>
<path d="M100,75 L105,76.5 L98.5,90 L97.5,100 L82,98.5 L87,90 Z" fill="#00dcff" fill-opacity="0.95" filter="url(#bl2)"/>
<path d="M99,79.5 Q94,88 91,98" fill="none" stroke="#00a0ff" stroke-width="1.20" stroke-opacity="0.38" stroke-linecap="round" stroke-linejoin="round" filter="url(#bl1)"/>
<path d="M109.5,73 L112.5,51" fill="none" stroke="#00e1eb" stroke-width="5.50" stroke-opacity="0.75" stroke-linecap="round" stroke-linejoin="round" filter="url(#bl3)"/>
<path d="M126,85 L149,82 L144,101 L121,100 Z" fill="#b4f030" fill-opacity="0.70" filter="url(#bl5)"/>
<ellipse cx="144.00" cy="60.00" rx="7.50" ry="9.50" transform="rotate(15.0 144.00 60.00)" fill="#96f03c" fill-opacity="0.75" filter="url(#bl4)"/>
<ellipse cx="108.70" cy="74.70" rx="3.30" ry="1.60" transform="rotate(0.0 108.70 74.70)" fill="#0040e6" fill-opacity="1.00" filter="url(#bl1)"/>
</g>
<g clip-path="url(#bc3)"><polygon points="56.83,24.06 59.33,24.67 61.83,25.28 64.32,25.89 66.82,26.49 69.32,27.07 71.82,27.65 74.31,28.21 76.81,28.75 79.31,29.26 81.81,29.75 84.30,30.19 86.80,30.58 89.30,30.90 91.80,31.15 94.30,31.31 96.79,31.39 99.29,31.37 101.79,31.27 104.29,31.09 106.78,30.85 109.28,30.53 111.78,30.16 114.28,29.73 116.78,29.29 119.27,28.86 121.77,28.49 124.27,28.20 126.77,28.02 129.26,28.01 131.76,28.16 134.26,28.47 136.76,28.91 139.25,29.45 141.75,30.06 144.25,30.72 146.75,31.39 149.25,32.07 151.74,32.75 154.24,33.43 156.74,34.10 159.24,34.78 161.73,35.45 164.23,36.12 166.73,36.79 149.06,86.55 146.56,85.88 144.06,85.20 141.57,84.53 139.07,83.86 136.57,83.18 134.07,82.51 131.58,81.83 129.08,81.15 126.58,80.47 124.08,79.81 121.58,79.20 119.09,78.66 116.59,78.23 114.09,77.92 111.59,77.76 109.10,77.78 106.60,77.95 104.10,78.24 101.60,78.62 99.11,79.04 96.61,79.49 94.11,79.91 91.61,80.29 89.11,80.60 86.62,80.85 84.12,81.03 81.62,81.13 79.12,81.14 76.63,81.07 74.13,80.91 71.63,80.66 69.13,80.33 66.63,79.94 64.14,79.50 61.64,79.02 59.14,78.50 56.64,77.96 54.15,77.40 51.65,76.83 49.15,76.24 46.65,75.64 44.16,75.04 41.66,74.43 39.16,73.81" fill="#00b4ff" fill-opacity="0.06" filter="url(#bl4)"/></g>
<g clip-path="url(#bc3)"><polygon points="56.83,24.06 59.33,24.67 61.83,25.28 64.32,25.89 66.82,26.49 69.32,27.07 71.82,27.65 74.31,28.21 76.81,28.75 79.31,29.26 81.81,29.75 84.30,30.19 86.80,30.58 89.30,30.90 91.80,31.15 94.30,31.31 96.79,31.39 99.29,31.37 101.79,31.27 104.29,31.09 106.78,30.85 109.28,30.53 111.78,30.16 114.28,29.73 116.78,29.29 119.27,28.86 121.77,28.49 124.27,28.20 126.77,28.02 129.26,28.01 131.76,28.16 134.26,28.47 136.76,28.91 139.25,29.45 141.75,30.06 144.25,30.72 146.75,31.39 149.25,32.07 151.74,32.75 154.24,33.43 156.74,34.10 159.24,34.78 161.73,35.45 164.23,36.12 166.73,36.79 149.06,86.55 146.56,85.88 144.06,85.20 141.57,84.53 139.07,83.86 136.57,83.18 134.07,82.51 131.58,81.83 129.08,81.15 126.58,80.47 124.08,79.81 121.58,79.20 119.09,78.66 116.59,78.23 114.09,77.92 111.59,77.76 109.10,77.78 106.60,77.95 104.10,78.24 101.60,78.62 99.11,79.04 96.61,79.49 94.11,79.91 91.61,80.29 89.11,80.60 86.62,80.85 84.12,81.03 81.62,81.13 79.12,81.14 76.63,81.07 74.13,80.91 71.63,80.66 69.13,80.33 66.63,79.94 64.14,79.50 61.64,79.02 59.14,78.50 56.64,77.96 54.15,77.40 51.65,76.83 49.15,76.24 46.65,75.64 44.16,75.04 41.66,74.43 39.16,73.81" fill="#00d2c8" fill-opacity="0.20" filter="url(#bl4)"/></g>
<polygon points="56.83,24.06 59.33,24.67 61.83,25.28 64.32,25.89 66.82,26.49 69.32,27.07 71.82,27.65 74.31,28.21 76.81,28.75 79.31,29.26 81.81,29.75 84.30,30.19 86.80,30.58 89.30,30.90 91.80,31.15 94.30,31.31 96.79,31.39 99.29,31.37 101.79,31.27 104.29,31.09 106.78,30.85 109.28,30.53 111.78,30.16 114.28,29.73 116.78,29.29 119.27,28.86 121.77,28.49 124.27,28.20 126.77,28.02 129.26,28.01 131.76,28.16 134.26,28.47 136.76,28.91 139.25,29.45 141.75,30.06 144.25,30.72 146.75,31.39 149.25,32.07 151.74,32.75 154.24,33.43 156.74,34.10 159.24,34.78 161.73,35.45 164.23,36.12 166.73,36.79 149.06,86.55 146.56,85.88 144.06,85.20 141.57,84.53 139.07,83.86 136.57,83.18 134.07,82.51 131.58,81.83 129.08,81.15 126.58,80.47 124.08,79.81 121.58,79.20 119.09,78.66 116.59,78.23 114.09,77.92 111.59,77.76 109.10,77.78 106.60,77.95 104.10,78.24 101.60,78.62 99.11,79.04 96.61,79.49 94.11,79.91 91.61,80.29 89.11,80.60 86.62,80.85 84.12,81.03 81.62,81.13 79.12,81.14 76.63,81.07 74.13,80.91 71.63,80.66 69.13,80.33 66.63,79.94 64.14,79.50 61.64,79.02 59.14,78.50 56.64,77.96 54.15,77.40 51.65,76.83 49.15,76.24 46.65,75.64 44.16,75.04 41.66,74.43 39.16,73.81" fill="#00d2c8" fill-opacity="0.20" clip-path="url(#nbc3)"/>
<path d="M99.30,45.61 L99.30,74.05 A3.55,1.75 0 0 0 106.40,74.05 L106.40,45.61 A3.55,1.75 0 0 0 99.30,45.61 Z" fill="url(#cylu)"/>
<path d="M99.30,45.61 L99.30,55.00 A3.55,1.75 0 0 0 106.40,56.40 L106.40,45.61 A3.55,1.75 0 0 0 99.30,45.61 Z" fill="url(#cylg)"/>
<ellipse cx="102.85" cy="45.61" rx="3.55" ry="1.75" fill="#b24a1e"/>
<line x1="38.40" y1="105.30" x2="38.40" y2="66.50" stroke="#3c3c3c" stroke-width="0.65"/>
<line x1="38.40" y1="105.30" x2="148.30" y2="114.70" stroke="#3c3c3c" stroke-width="0.65"/>
<line x1="148.30" y1="114.70" x2="167.30" y2="61.20" stroke="#3c3c3c" stroke-width="0.65"/>
<line x1="38.40" y1="105.30" x2="36.00" y2="105.10" stroke="#3c3c3c" stroke-width="0.65"/>
<line x1="38.40" y1="95.60" x2="36.00" y2="95.40" stroke="#3c3c3c" stroke-width="0.65"/>
<line x1="38.40" y1="85.90" x2="36.00" y2="85.70" stroke="#3c3c3c" stroke-width="0.65"/>
<line x1="38.40" y1="76.20" x2="36.00" y2="76.00" stroke="#3c3c3c" stroke-width="0.65"/>
<line x1="38.40" y1="66.50" x2="36.00" y2="66.30" stroke="#3c3c3c" stroke-width="0.65"/>
<line x1="38.40" y1="105.30" x2="37.60" y2="107.60" stroke="#3c3c3c" stroke-width="0.65"/>
<line x1="93.35" y1="110.00" x2="92.55" y2="112.30" stroke="#3c3c3c" stroke-width="0.65"/>
<line x1="148.30" y1="114.70" x2="147.50" y2="117.00" stroke="#3c3c3c" stroke-width="0.65"/>
<line x1="148.30" y1="114.70" x2="150.80" y2="114.90" stroke="#3c3c3c" stroke-width="0.65"/>
<line x1="157.80" y1="87.95" x2="160.30" y2="88.15" stroke="#3c3c3c" stroke-width="0.65"/>
<line x1="167.30" y1="61.20" x2="169.80" y2="61.40" stroke="#3c3c3c" stroke-width="0.65"/>
<text x="32.40" y="108.90" text-anchor="end" font-size="10.00" font-weight="normal" fill="#262626">-10</text>
<text x="32.40" y="99.20" text-anchor="end" font-size="10.00" font-weight="normal" fill="#262626">0</text>
<text x="32.40" y="89.50" text-anchor="end" font-size="10.00" font-weight="normal" fill="#262626">10</text>
<text x="32.40" y="79.80" text-anchor="end" font-size="10.00" font-weight="normal" fill="#262626">20</text>
<text x="32.40" y="70.10" text-anchor="end" font-size="10.00" font-weight="normal" fill="#262626">30</text>
<text x="35.90" y="122.20" text-anchor="end" font-size="10.00" font-weight="normal" fill="#262626">50</text>
<text x="90.85" y="126.90" text-anchor="end" font-size="10.00" font-weight="normal" fill="#262626">100</text>
<text x="145.80" y="131.60" text-anchor="end" font-size="10.00" font-weight="normal" fill="#262626">150</text>
<text x="154.70" y="126.00" text-anchor="start" font-size="10.00" font-weight="normal" fill="#262626">-50</text>
<text x="164.20" y="99.25" text-anchor="start" font-size="10.00" font-weight="normal" fill="#262626">0</text>
<text x="173.70" y="72.50" text-anchor="start" font-size="10.00" font-weight="normal" fill="#262626">50</text>
<text x="78.00" y="138.20" text-anchor="middle" font-size="10.60" font-weight="normal" fill="#262626">x (m)</text>
<text x="193.40" y="127.40" text-anchor="middle" font-size="10.60" font-weight="normal" fill="#262626">y (m)</text>
<text x="13.20" y="85.30" text-anchor="middle" font-size="10.60" font-weight="normal" fill="#262626" transform="rotate(-90 13.20 85.30)">z (m)</text>
<g transform="translate(0 9.7) scale(1 1.0) translate(0 -9.7)">
<text x="103.00" y="9.70" text-anchor="middle" font-size="9.80" font-weight="bold" fill="#262626" textLength="79.4" lengthAdjust="spacingAndGlyphs">Time = 200.0 sec</text>
</g>
<rect x="197.75" y="26.50" width="5.50" height="85.30" fill="url(#jet)" stroke="#3c3c3c" stroke-width="0.35"/>
<text x="206.60" y="30.30" text-anchor="start" font-size="9.30" font-weight="normal" fill="#262626">0.5</text>
<text x="206.60" y="72.95" text-anchor="start" font-size="9.30" font-weight="normal" fill="#262626">0</text>
<text x="206.60" y="115.60" text-anchor="start" font-size="9.30" font-weight="normal" fill="#262626">-0.5</text>
<text x="233.80" y="68.40" text-anchor="middle" font-size="9.30" font-weight="normal" fill="#4a4a4a" style="stroke:none" transform="rotate(-90 233.80 68.40)">Bed elevation (m)</text>
</g>
</svg></body></html>
